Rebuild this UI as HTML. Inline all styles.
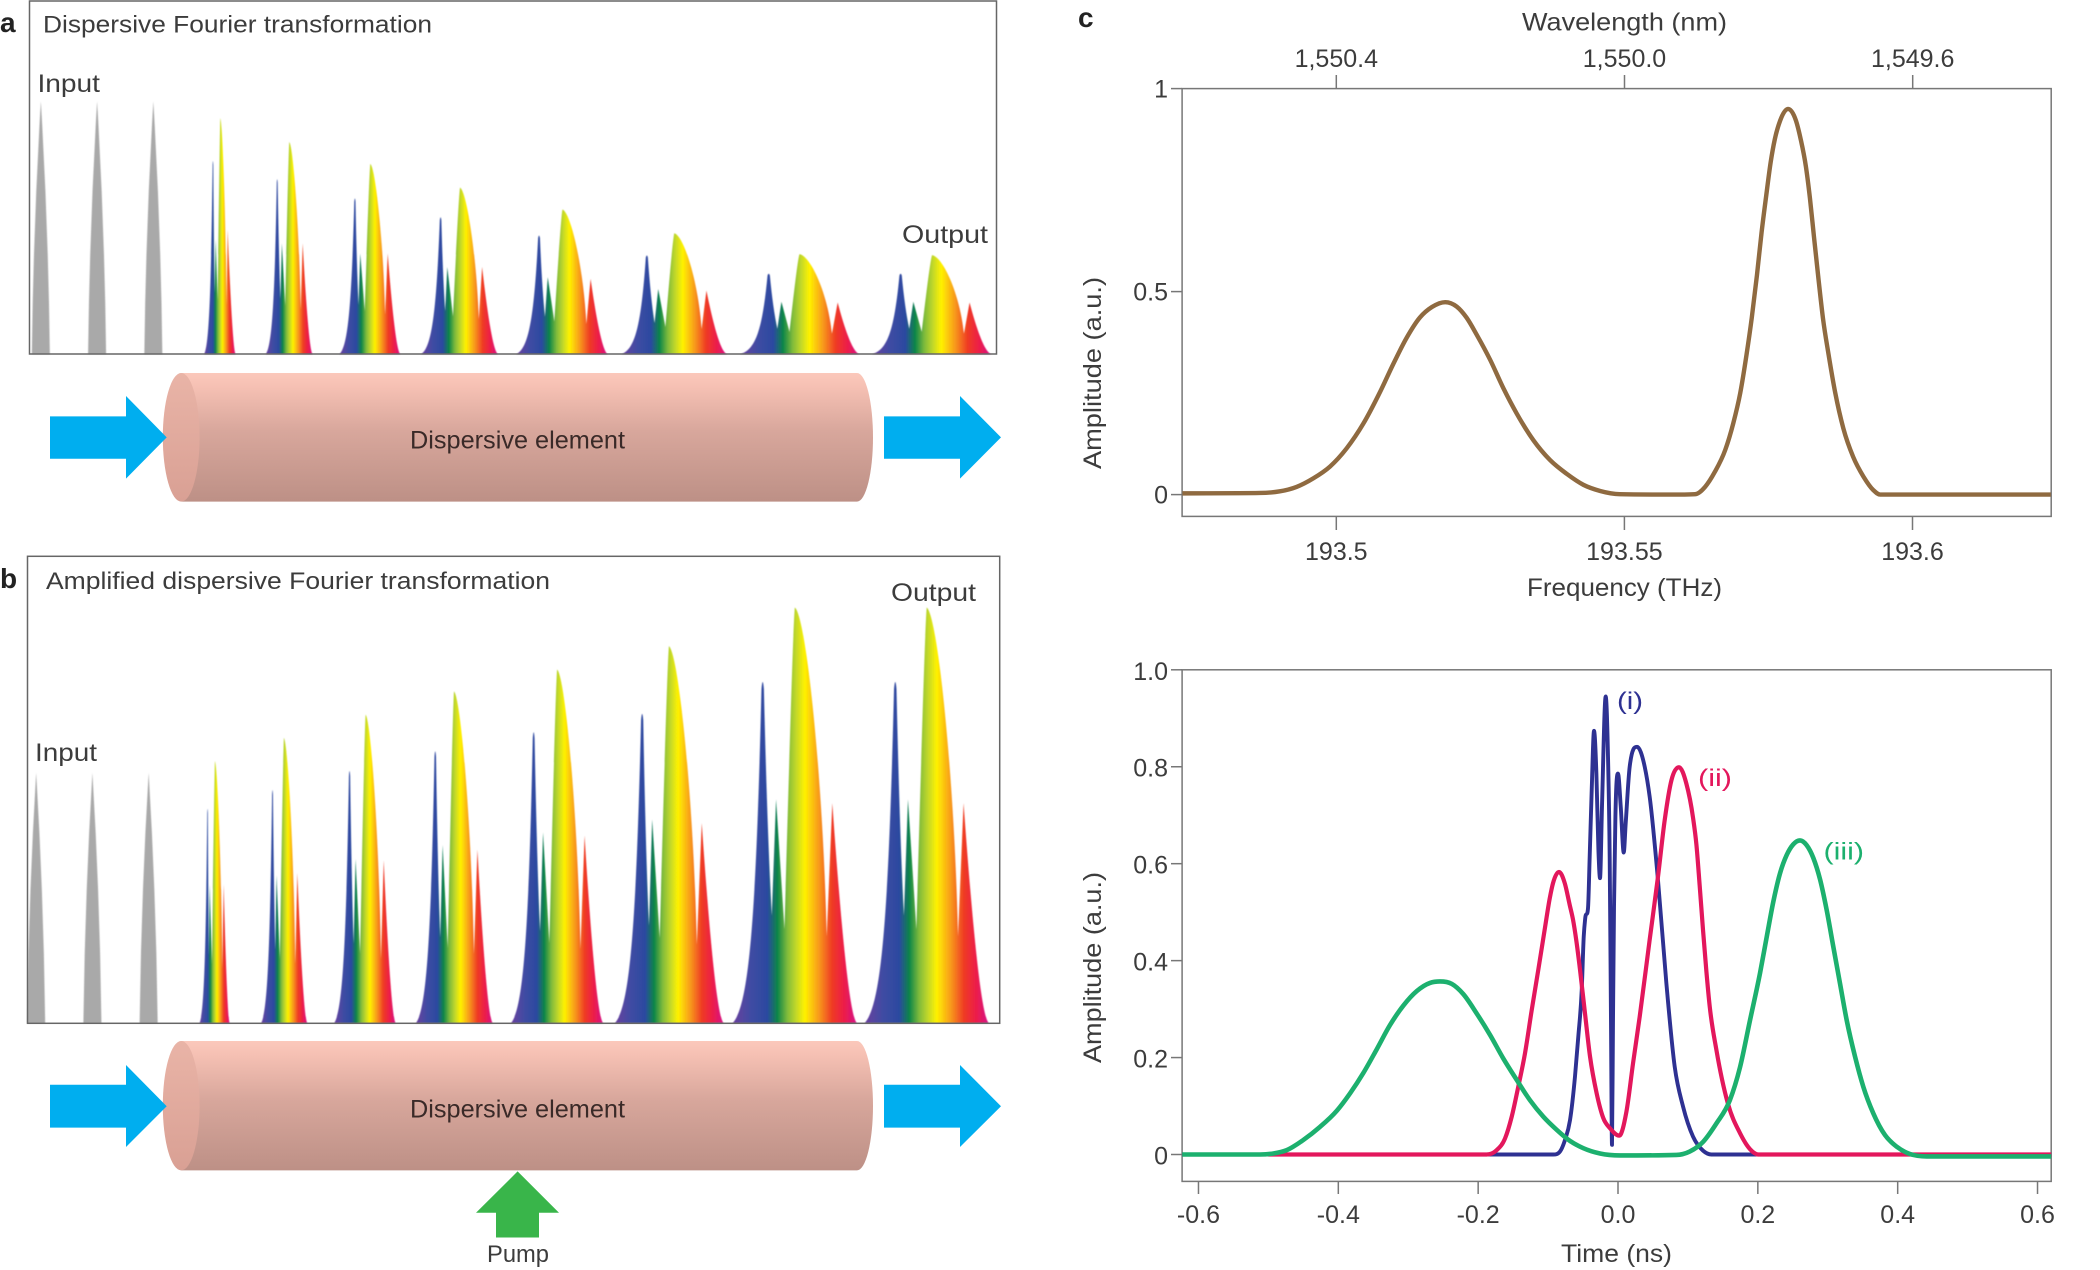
<!DOCTYPE html>
<html lang="en">
<head>
<meta charset="utf-8">
<title>Dispersive Fourier transformation</title>
<style>
html,body{margin:0;padding:0;background:#fff;}
svg{display:block;}
text{font-family:"Liberation Sans",sans-serif;fill:#3c3c3c;}
</style>
</head>
<body>
<svg id="figure" xmlns="http://www.w3.org/2000/svg" width="2100" height="1270" viewBox="0 0 2100 1270">
<defs>
<linearGradient id="rainbow" x1="0" y1="0" x2="1" y2="0">
<stop offset="0" stop-color="#6a3f9e"/><stop offset=".15" stop-color="#3f4ca3"/><stop offset=".28" stop-color="#2b4aa0"/>
<stop offset=".36" stop-color="#0d8548"/><stop offset=".44" stop-color="#80bb3b"/><stop offset=".51" stop-color="#c2d82a"/>
<stop offset=".58" stop-color="#fff200"/><stop offset=".70" stop-color="#f7941d"/><stop offset=".80" stop-color="#ef3b24"/>
<stop offset=".90" stop-color="#ec1c4b"/><stop offset="1" stop-color="#d4148a"/>
</linearGradient>
<linearGradient id="cyl" x1="0" y1="0" x2="0" y2="1">
<stop offset="0" stop-color="#fbc8bb"/><stop offset=".1" stop-color="#f6c1b4"/><stop offset=".45" stop-color="#d8a79c"/><stop offset="1" stop-color="#bd9086"/>
</linearGradient>
<linearGradient id="cylFace" x1="0" y1="0" x2="0" y2="1">
<stop offset="0" stop-color="#e9b4a7"/><stop offset="1" stop-color="#d9a094"/>
</linearGradient>
<filter id="soft" x="-5%" y="-5%" width="110%" height="110%"><feGaussianBlur stdDeviation="0.6"/></filter>
</defs>

<!-- Panel a -->
<g>
<text x="0" y="32" font-size="28" font-weight="bold" style="fill:#222">a</text>
<g id="pulsesA" filter="url(#soft)"></g>
<rect x="29.5" y="1" width="967" height="353" fill="none" stroke="#666" stroke-width="1.5"/>
<text x="43" y="32.5" font-size="24.5" textLength="389" lengthAdjust="spacingAndGlyphs">Dispersive Fourier transformation</text>
<text x="37.5" y="92" font-size="25" textLength="62.5" lengthAdjust="spacingAndGlyphs">Input</text>
<text x="902" y="243" font-size="25" textLength="86" lengthAdjust="spacingAndGlyphs">Output</text>
<g>
<path d="M182 373L857 373A16 64.3 0 0 1 857 501.6L182 501.6A18.4 64.3 0 0 1 182 373Z" fill="url(#cyl)"/>
<ellipse cx="181.2" cy="437.3" rx="18.4" ry="64.3" fill="url(#cylFace)"/>
<text x="410" y="448.5" font-size="25" textLength="215" lengthAdjust="spacingAndGlyphs" style="fill:#3a2a28">Dispersive element</text>
</g>
<polygon points="50,416.4 126,416.4 126,396 166.7,437.4 126,478.6 126,458.7 50,458.7" fill="#00aeef"/>
<polygon points="884,416.4 960,416.4 960,396 1001,437.4 960,478.6 960,458.7 884,458.7" fill="#00aeef"/>
</g>

<!-- Panel b -->
<g>
<text x="0" y="588" font-size="28" font-weight="bold" style="fill:#222">b</text>
<g id="pulsesB" filter="url(#soft)"></g>
<rect x="27.5" y="556.3" width="972.2" height="467" fill="none" stroke="#666" stroke-width="1.5"/>
<text x="46" y="589" font-size="24.5" textLength="504" lengthAdjust="spacingAndGlyphs">Amplified dispersive Fourier transformation</text>
<text x="35" y="761" font-size="25" textLength="62" lengthAdjust="spacingAndGlyphs">Input</text>
<text x="891" y="601" font-size="25" textLength="85" lengthAdjust="spacingAndGlyphs">Output</text>
<g>
<path d="M182 1041L857 1041A16 64.7 0 0 1 857 1170.4L182 1170.4A18.4 64.7 0 0 1 182 1041Z" fill="url(#cyl)"/>
<ellipse cx="181.2" cy="1105.7" rx="18.4" ry="64.7" fill="url(#cylFace)"/>
<text x="410" y="1117.5" font-size="25" textLength="215" lengthAdjust="spacingAndGlyphs" style="fill:#3a2a28">Dispersive element</text>
</g>
<polygon points="50,1084.8 126,1084.8 126,1065 166.7,1106.2 126,1147 126,1127.6 50,1127.6" fill="#00aeef"/>
<polygon points="884,1084.8 960,1084.8 960,1065 1001,1106.2 960,1147 960,1127.6 884,1127.6" fill="#00aeef"/>
<polygon points="517.6,1171.4 559,1212.8 539,1212.8 539,1237.5 496,1237.5 496,1212.8 476,1212.8" fill="#39b54a"/>
<text x="487" y="1262" font-size="24" textLength="62" lengthAdjust="spacingAndGlyphs">Pump</text>
</g>

<!-- Panel c top -->
<g>
<text x="1078" y="27" font-size="28" font-weight="bold" style="fill:#222">c</text>
<rect x="1182.1" y="88.6" width="869.1" height="427.8" fill="none" stroke="#777" stroke-width="1.5"/>
<text x="1522" y="30.5" font-size="25" textLength="205" lengthAdjust="spacingAndGlyphs">Wavelength (nm)</text>
<text x="1527" y="596" font-size="25" textLength="195" lengthAdjust="spacingAndGlyphs">Frequency (THz)</text>
<text transform="rotate(-90 1101 469)" x="1101" y="469" font-size="25" textLength="192" lengthAdjust="spacingAndGlyphs">Amplitude (a.u.)</text>
<g id="specAxes"></g>
<path id="specLine" fill="none" stroke="#8f6a40" stroke-width="4.4" stroke-linejoin="round"/>
</g>

<!-- Panel c bottom -->
<g>
<rect x="1182.1" y="669.8" width="869.1" height="511.6" fill="none" stroke="#777" stroke-width="1.5"/>
<text x="1561" y="1262" font-size="25" textLength="111" lengthAdjust="spacingAndGlyphs">Time (ns)</text>
<text transform="rotate(-90 1101 1063)" x="1101" y="1063" font-size="25" textLength="191" lengthAdjust="spacingAndGlyphs">Amplitude (a.u.)</text>
<g id="timeAxes"></g>
<path id="lineI" fill="none" stroke="#2e3192" stroke-width="3.9" stroke-linejoin="round"/>
<path id="lineII" fill="none" stroke="#e3175c" stroke-width="4.2" stroke-linejoin="round"/>
<path id="lineIII" fill="none" stroke="#1cb06e" stroke-width="4.6" stroke-linejoin="round"/>
<text x="1617" y="709" font-size="24" textLength="26" lengthAdjust="spacingAndGlyphs" style="fill:#2e3192">(i)</text>
<text x="1698" y="786" font-size="24" textLength="34" lengthAdjust="spacingAndGlyphs" style="fill:#e3175c">(ii)</text>
<text x="1823.5" y="859.6" font-size="24" textLength="40.5" lengthAdjust="spacingAndGlyphs" style="fill:#1cb06e">(iii)</text>
</g>
</svg>

<script>
// ---- Panel c (top): spectrum ----
var spectrumFrequency = [193.4733,193.4868,193.4902,193.4931,193.496,193.4989,193.5018,193.5047,193.5076,193.5099,193.5122,193.5145,193.5166,193.5189,193.5209,193.5226,193.5244,193.5267,193.529,193.5313,193.5342,193.5371,193.54,193.5429,193.5458,193.5492,193.5596,193.5623,193.564,193.5657,193.5675,193.5689,193.5701,193.5712,193.5721,193.573,193.5738,193.5746,193.5754,193.5761,193.577,193.5784,193.5798,193.5806,193.5815,193.5822,193.5829,193.5837,193.5845,193.5854,193.5866,193.588,193.5897,193.5915,193.5932,193.5944,193.624];
var spectrumAmplitude = [.003,.004,.008,.019,.04,.069,.114,.175,.253,.322,.386,.436,.462,.474,.463,.436,.393,.332,.262,.2,.134,.085,.051,.024,.009,.001,0,.001,.019,.056,.11,.176,.25,.345,.435,.54,.645,.735,.82,.875,.92,.95,.92,.875,.808,.73,.635,.529,.43,.348,.25,.163,.093,.044,.011,0,0];
var frequencyTicks = [193.5,193.55,193.6];
var frequencyTickLabels = ["193.5","193.55","193.6"];
var wavelengthTicks = [1550.4,1550.0,1549.6];
var wavelengthTickLabels = ["1,550.4","1,550.0","1,549.6"];
var spectrumYTicks = [0,0.5,1];
var spectrumYTickLabels = ["0","0.5","1"];

// ---- Panel c (bottom): time traces ----
var timeI = [-.6232,-.0925,-.083,-.0758,-.0686,-.0615,-.0568,-.0519,-.049,-.047,-.0429,-.0405,-.0376,-.0343,-.0309,-.028,-.0257,-.0229,-.0176,-.0143,-.0119,-.01,-.0086,-.0072,-.0057,-.0037,0,.0039,.0082,.011,.0167,.0272,.0382,.0453,.0572,.0692,.0811,.093,.1073,.1216,.1336,.6195];
var ampI = [0,0,.006,.03,.071,.161,.243,.339,.45,.486,.508,.614,.752,.874,.786,.628,.57,.718,.945,.821,.614,.271,.02,.271,.511,.697,.786,.718,.623,.683,.8,.841,.8,.738,.566,.353,.181,.099,.037,.008,0,0];
var timeII = [-.5,-.1878,-.1735,-.1616,-.152,-.1426,-.133,-.1234,-.114,-.1042,-.0977,-.0929,-.0844,-.0762,-.0691,-.0644,-.0595,-.0543,-.0472,-.04,-.0305,-.021,-.0114,.0019,.012,.0215,.031,.0453,.0572,.0668,.0764,.0872,.0978,.1073,.1121,.1168,.1216,.1264,.1312,.1407,.157,.1745,.1888,.2007,.6195];
var ampII = [0,0,.009,.033,.078,.14,.209,.298,.381,.47,.528,.56,.583,.56,.515,.485,.44,.381,.291,.202,.126,.075,.054,.039,.088,.188,.284,.443,.573,.69,.772,.799,.765,.695,.64,.555,.463,.378,.305,.216,.106,.044,.011,0,0];
var timeIII = [-.6232,-.512,-.493,-.4738,-.4501,-.4262,-.4023,-.3833,-.3643,-.3451,-.3261,-.3071,-.2879,-.2689,-.2546,-.2378,-.2213,-.2021,-.1831,-.164,-.1449,-.1259,-.1068,-.0877,-.0686,-.0496,-.0257,.0029,.0835,.1025,.1216,.1407,.16,.1745,.1888,.2031,.2127,.2222,.2317,.2413,.2507,.2603,.2699,.2793,.2889,.2985,.3079,.3175,.3271,.339,.3508,.3651,.3819,.3986,.4176,.4415,.6195];
var ampIII = [0,0,.002,.009,.03,.057,.09,.126,.168,.217,.267,.307,.337,.354,.357,.352,.331,.291,.247,.198,.154,.112,.078,.051,.028,.013,.002,-.002,-.001,.006,.026,.064,.112,.18,.277,.374,.449,.522,.58,.618,.64,.648,.638,.612,.568,.504,.429,.353,.277,.202,.14,.085,.04,.016,.001,-.004,-.004];
var timeTicks = [-0.6,-0.4,-0.2,0,0.2,0.4,0.6];
var timeTickLabels = ["-0.6","-0.4","-0.2","0.0","0.2","0.4","0.6"];
var timeYTicks = [0,0.2,0.4,0.6,0.8,1];
var timeYTickLabels = ["0","0.2","0.4","0.6","0.8","1.0"];

// ---- Panel a: pulses (time and height in arbitrary units) ----
var inputTimesA = [61,145,229];
var inputHeightA = 748;
var startA = [305,397,507,629,771,928,1105,1302];
var endA = [352,467,598,744,908,1086,1284,1481];
var blueTimeA = [318,414,530,658,805,966,1148,1345];
var greenTimeA = [322,421,538,668,818,983,1167,1364];
var mainTimeA = [329,432,553,687,840,1007,1194,1392];
var redTimeA = [340,452,579,720,882,1055,1251,1448];
var blueHeightA = [583,528,470,413,358,298,243,243];
var greenHeightA = [340,328,298,258,228,193,155,155];
var mainHeightA = [698,628,563,493,428,358,296,293];
var redHeightA = [368,328,298,258,223,188,153,153];

// ---- Panel b: pulses ----
var inputTimesB = [54,138,222];
var inputHeightB = 538;
var startB = [298,390,499,621,763,918,1094,1291];
var endB = [343,459,591,736,901,1081,1280,1477];
var blueTimeB = [310,407,522,650,797,959,1139,1337];
var greenTimeB = [313,413,531,661,811,974,1159,1356];
var mainTimeB = [321,424,546,678,832,999,1187,1384];
var redTimeB = [334,444,573,713,873,1048,1243,1439];
var blueHeightB = [470,511,553,596,638,678,748,748];
var greenHeightB = [298,318,353,383,410,438,481,481];
var mainHeightB = [563,613,663,713,760,810,893,893];
var redHeightB = [298,323,350,373,403,430,473,473];

var NS = "http://www.w3.org/2000/svg";

// axis functions
function xFreq(f){ return 1336.3 + (f - 193.5) * 5762; }
function xWave(w){ return 1624.5 - (w - 1550) * 720.5; }
function ySpec(a){ return 494.6 - a * 406; }
function xTime(t){ return 1618 + t * 699.2; }
function yTime(a){ return 1154.5 - a * 484.7; }
function xPulse(t){ return t * 0.6696; }
function hPulseA(h){ return h * 0.338; }
function hPulseB(h){ return h * 0.4656; }

function monotonePath(xs, ys){
  var n = xs.length, dx = [], m = [], s = [], i;
  for (i = 0; i < n - 1; i++){ dx[i] = xs[i+1] - xs[i]; s[i] = (ys[i+1] - ys[i]) / dx[i]; }
  m[0] = s[0]; m[n-1] = s[n-2];
  for (i = 1; i < n - 1; i++){
    if (s[i-1] * s[i] <= 0) { m[i] = 0; continue; }
    var centred = (s[i-1]*dx[i] + s[i]*dx[i-1]) / (dx[i-1] + dx[i]);
    var lim = 3 * Math.min(Math.abs(s[i-1]), Math.abs(s[i]));
    m[i] = (s[i] > 0 ? 1 : -1) * Math.min(Math.abs(centred), lim);
  }
  var d = "M" + xs[0].toFixed(2) + " " + ys[0].toFixed(2);
  for (i = 0; i < n - 1; i++){
    d += "C" + (xs[i] + dx[i]/3).toFixed(2) + " " + (ys[i] + m[i]*dx[i]/3).toFixed(2) + " " +
         (xs[i+1] - dx[i]/3).toFixed(2) + " " + (ys[i+1] - m[i+1]*dx[i]/3).toFixed(2) + " " +
         xs[i+1].toFixed(2) + " " + ys[i+1].toFixed(2);
  }
  return d;
}

function drawLine(id, tx, ty, fx, fy){
  document.getElementById(id).setAttribute("d", monotonePath(tx.map(fx), ty.map(fy)));
}

drawLine("specLine", spectrumFrequency, spectrumAmplitude, xFreq, ySpec);
drawLine("lineI", timeI, ampI, xTime, yTime);
drawLine("lineII", timeII, ampII, xTime, yTime);
drawLine("lineIII", timeIII, ampIII, xTime, yTime);

function addTick(parent, x1, y1, x2, y2){
  var l = document.createElementNS(NS, "line");
  l.setAttribute("x1", x1); l.setAttribute("y1", y1);
  l.setAttribute("x2", x2); l.setAttribute("y2", y2);
  l.setAttribute("stroke", "#777"); l.setAttribute("stroke-width", "1.5");
  
  
  parent.appendChild(l);
}
function addLabel(parent, str, x, y, anchor){
  var t = document.createElementNS(NS, "text");
  t.setAttribute("x", x); t.setAttribute("y", y);
  t.setAttribute("text-anchor", anchor); t.setAttribute("font-size", "25");
  t.textContent = str;
  
  
  parent.appendChild(t);
}

var specAxes = document.getElementById("specAxes");
frequencyTicks.forEach(function(f, i){
  addTick(specAxes, xFreq(f), 516.4, xFreq(f), 530);
  addLabel(specAxes, frequencyTickLabels[i], xFreq(f), 560, "middle");
});
wavelengthTicks.forEach(function(w, i){
  addTick(specAxes, xWave(w), 75, xWave(w), 88.6);
  addLabel(specAxes, wavelengthTickLabels[i], xWave(w), 67, "middle");
});
spectrumYTicks.forEach(function(a, i){
  addTick(specAxes, 1171, ySpec(a), 1182, ySpec(a));
  addLabel(specAxes, spectrumYTickLabels[i], 1168, ySpec(a) + 9, "end");
});

var timeAxes = document.getElementById("timeAxes");
timeTicks.forEach(function(t, i){
  addTick(timeAxes, xTime(t), 1181.4, xTime(t), 1194);
  addLabel(timeAxes, timeTickLabels[i], xTime(t), 1223, "middle");
});
timeYTicks.forEach(function(a, i){
  addTick(timeAxes, 1171, yTime(a), 1182, yTime(a));
  addLabel(timeAxes, timeYTickLabels[i], 1168, yTime(a) + 10, "end");
});

// valley depth between spikes as a fraction of the blue spike height
var valleyFractions = [0.31, 0.27, 0.25];

function pulsePath(base, x0, x1, bx, gx, mx, rx, Hb, Hg, Hm, Hr){
  var v1 = valleyFractions[0]*Hb, v2 = valleyFractions[1]*Hb, v3 = valleyFractions[2]*Hb;
  var v1x = bx + .68*(gx-bx), v2x = gx + .45*(mx-gx), v3x = mx + .85*(rx-mx);
  var d = bx-x0, e = mx-v2x, f = v3x-mx, g = x1-rx;
  function P(x, H){ return x.toFixed(2) + " " + (base - H).toFixed(2) + " "; }
  return "M" + P(x0,0) +
    "C" + P(x0+.55*d,.05*Hb) + P(bx-.22*d,.3*Hb) + P(bx-.04*d,.96*Hb) +
    "Q" + P(bx,Hb) + P(bx+.04*d,.96*Hb) +
    "Q" + P(bx+.5*(v1x-bx),.55*Hb) + P(v1x,v1) +
    "Q" + P((v1x+gx)/2,(v1+Hg)/2) + P(gx,Hg) +
    "Q" + P((gx+v2x)/2,(Hg+v2)/2) + P(v2x,v2) +
    "C" + P(v2x+.2*e,.4*Hm) + P(mx-.2*e,.95*Hm) + P(mx,Hm) +
    "C" + P(mx+.35*f,.98*Hm) + P(v3x-.12*f,.6*Hm) + P(v3x,v3) +
    "Q" + P((v3x+rx)/2,(v3+Hr)/2) + P(rx,Hr) +
    "C" + P(rx+.25*g,.6*Hr) + P(x1-.35*g,.03*Hr) + P(x1,0) + "Z";
}

function drawPulses(groupId, base, hFn, inputTimes, inputH, start, end, bt, gt, mt, rt, bh, gh, mh, rh){
  var g = document.getElementById(groupId);
  inputTimes.forEach(function(t){
    var p = document.createElementNS(NS, "path");
    var cx = xPulse(t), H = hFn(inputH), top = base - H, mid = base - H/2;
    p.setAttribute("d", "M" + (cx-9) + " " + base + "Q" + (cx-7.5) + " " + mid + " " + cx + " " + top +
      "Q" + (cx+7.5) + " " + mid + " " + (cx+9) + " " + base + "Z");
    p.setAttribute("fill", "#a9a9a9");
    
    
    g.appendChild(p);
  });
  start.forEach(function(s, i){
    var p = document.createElementNS(NS, "path");
    p.setAttribute("d", pulsePath(base, xPulse(s), xPulse(end[i]), xPulse(bt[i]), xPulse(gt[i]), xPulse(mt[i]), xPulse(rt[i]),
      hFn(bh[i]), hFn(gh[i]), hFn(mh[i]), hFn(rh[i])));
    p.setAttribute("fill", "url(#rainbow)");
    
    
    g.appendChild(p);
  });
}

drawPulses("pulsesA", 354.2, hPulseA, inputTimesA, inputHeightA, startA, endA, blueTimeA, greenTimeA, mainTimeA, redTimeA, blueHeightA, greenHeightA, mainHeightA, redHeightA);
drawPulses("pulsesB", 1023.3, hPulseB, inputTimesB, inputHeightB, startB, endB, blueTimeB, greenTimeB, mainTimeB, redTimeB, blueHeightB, greenHeightB, mainHeightB, redHeightB);
</script>
</body>
</html>
